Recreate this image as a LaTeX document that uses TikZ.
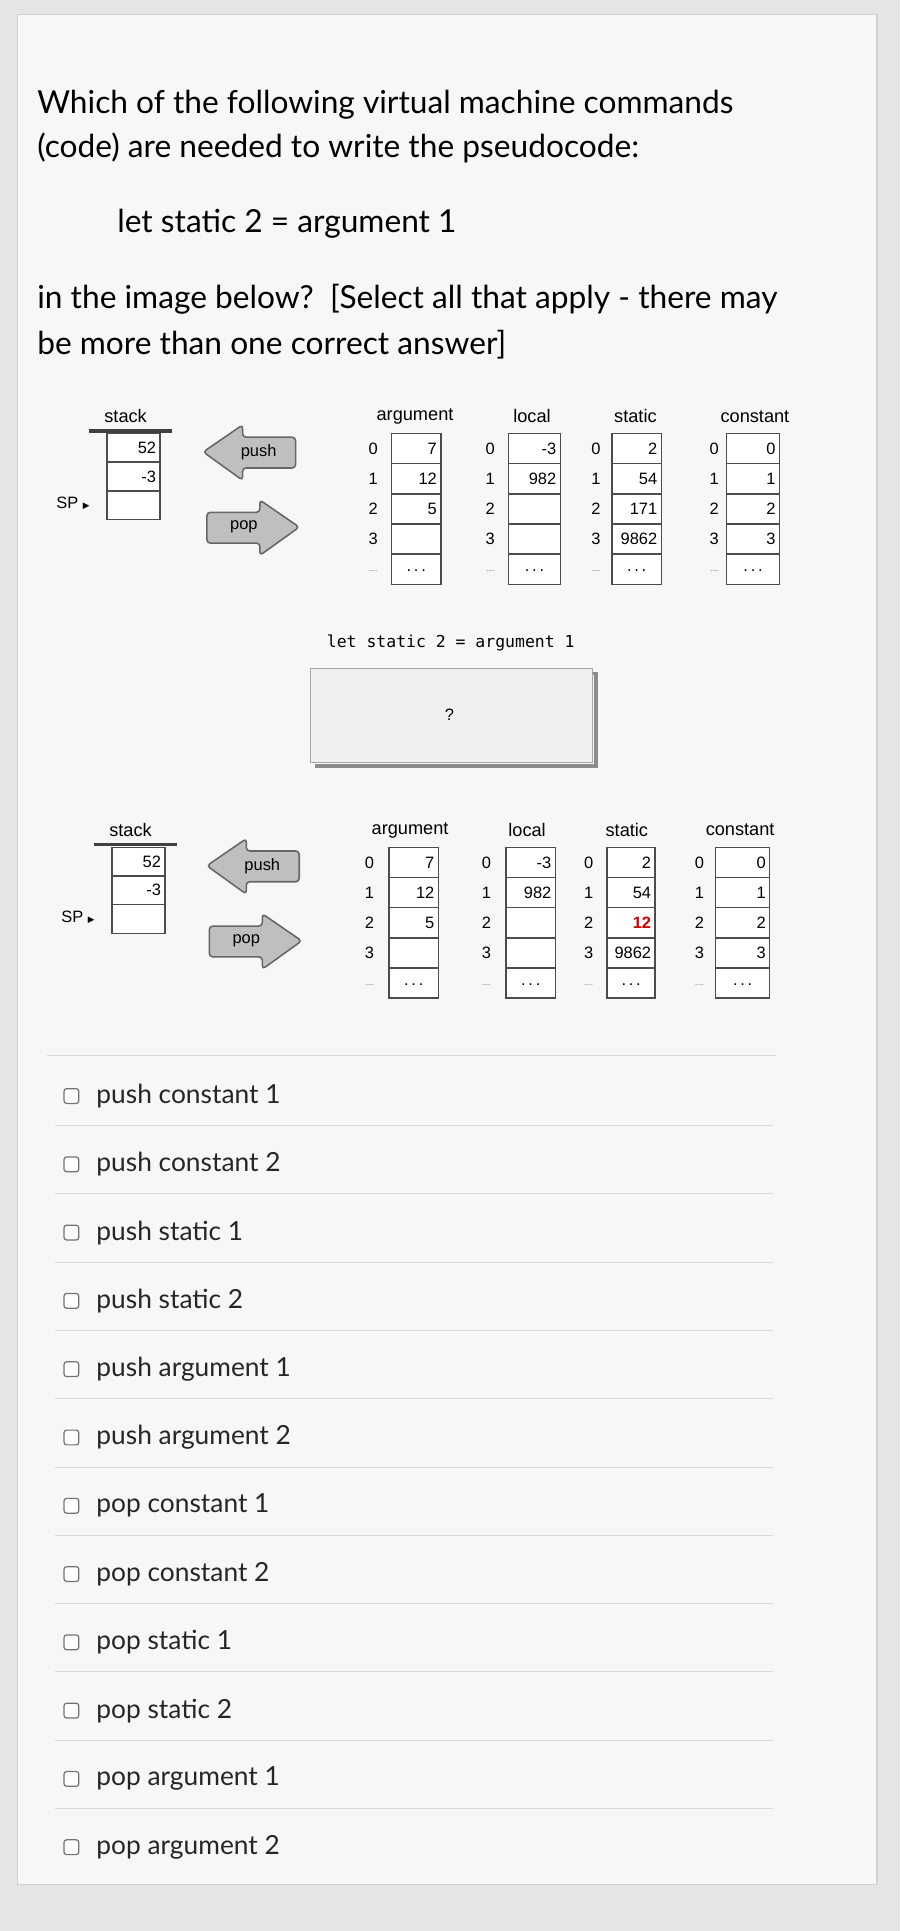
\documentclass[tikz,border=0pt]{standalone}
\usepackage{fontspec}
\setmainfont{Lato}
\newfontfamily\dfont{Liberation Sans}
\newfontfamily\mfont{DejaVu Sans Mono}
\newfontfamily\symfont{DejaVu Sans}
\tikzset{
 lbl/.style={font=\dfont\fontsize{10.5}{11}\selectfont,inner sep=0},
 val/.style={font=\dfont\fontsize{9.5}{10}\selectfont,inner sep=0},
 cell/.style={draw=black!70,line width=0.9pt,fill=white},
 arr/.style={draw=black!60,line width=0.9pt,fill=black!25,rounded corners=2pt},
 qtxt/.style={font=\fontsize{18.3}{22}\selectfont,anchor=west,inner sep=0},
 opt/.style={font=\fontsize{15.2}{18}\selectfont,anchor=west,inner sep=0,text=black!85},
 sep/.style={draw=black!15,line width=0.6pt},
 cbox/.style={draw=black!55,line width=0.7pt,rounded corners=1.5pt,fill=white}
}
\newcommand\memcol[7]{%
 \node[lbl] at (#6,#4-14) {#5};
 \foreach \v [count=\i from 0] in {#7} {
  \draw[cell] (#2,{#4+\i*24.5}) rectangle (#3,{#4+(\i+1)*24.5});
  \node[val,anchor=east] at (#3-3,{#4+(\i+0.5)*24.5}) {\v};
  \node[val] at (#1,{#4+(\i+0.5)*24.5}) {\i};
 }
 \draw[cell] (#2,{#4+4*24.5}) rectangle (#3,{#4+5*24.5});
 \node[val] at ({(#2+#3)/2},{#4+4.55*24.5}) {.\,.\,.};
 \node[val,text=black!40] at (#1,{#4+4.6*24.5}) {\tiny ---};
}
\newcommand\stackdiag[5]{%
 \node[lbl] at (#3,#2-14) {stack};
 \draw[line width=1.8pt,black!75] (#1-15,#2-2) -- (#1+53,#2-2);
 \foreach \v [count=\i from 0] in {52,-3,{}} {
  \draw[cell] (#1,{#2+\i*23.3}) rectangle (#1+43,{#2+(\i+1)*23.3});
  \node[val,anchor=east] at (#1+40,{#2+(\i+0.5)*23.3}) {\v};
 }
 \node[val,anchor=east] at (#1-14,#2+57) {SP {\symfont\tiny ▶}};
 \draw[arr] (#4,#2+15) -- (#4+32,#2-7) -- (#4+32,#2+3) -- (#4+75,#2+3) -- (#4+75,#2+28) -- (#4+32,#2+28) -- (#4+32,#2+38) -- cycle;
 \node[val] at (#4+45,#2+15) {push};
 \draw[arr] (#5+75,#2+76) -- (#5+43,#2+54) -- (#5+43,#2+64) -- (#5,#2+64) -- (#5,#2+89) -- (#5+43,#2+89) -- (#5+43,#2+99) -- cycle;
 \node[val] at (#5+30,#2+76) {pop};
}
\begin{document}
\begin{tikzpicture}[x=0.025cm,y=-0.025cm]
\useasboundingbox (0,0) rectangle (731,1568);
\fill[black!10] (0,0) rectangle (731,1568);
\fill[black!3] (14,12) rectangle (712,1530);
\draw[black!18,line width=0.8pt] (14,12) rectangle (712,1530);

\node[qtxt] (q1) at (30,85) {Which of the following virtual machine commands};
\node[qtxt] (q2) at (30,120) {(code) are needed to write the pseudocode:};
\node[qtxt] (q3) at (95,182) {let static 2 = argument 1};
\node[qtxt] (q4) at (30,243) {in the image below?\ \ [Select all that apply - there may};
\node[qtxt] (q5) at (30,280) {be more than one correct answer]};

\stackdiag{87}{352}{102}{165}{168}
\memcol{303}{318}{358}{352}{argument}{337}{7,12,5,{}}
\memcol{398}{413}{455}{352}{local}{432}{-3,982,{},{}}
\memcol{484}{497}{537}{352}{static}{516}{2,54,171,9862}
\memcol{580}{590}{633}{352}{constant}{613}{0,1,2,3}

\node[font=\mfont\fontsize{9.5}{12}\selectfont] (code) at (366,522) {let static 2 = argument 1};
\draw[black!45,line width=2pt] (256,547) -- (484,547) -- (484,622) -- (256,622);
\draw[draw=black!35,fill=blue!4!black!6,line width=0.8pt] (252,543) rectangle (481,619);
\node[val] (qm) at (365,580) {?};

\stackdiag{91}{688}{106}{168}{170}
\memcol{300}{316}{356}{688}{argument}{333}{7,12,5,{}}
\memcol{395}{411}{451}{688}{local}{428}{-3,982,{},{}}
\memcol{478}{493}{532}{688}{static}{509}{2,54,\textcolor{red!80!black}{\bfseries 12},9862}
\memcol{568}{581}{625}{688}{constant}{601}{0,1,2,3}

\draw[sep] (38,857) -- (630,857);
\foreach \t [count=\i from 0] in {push constant 1,push constant 2,push static 1,push static 2,push argument 1,push argument 2,pop constant 1,pop constant 2,pop static 1,pop static 2,pop argument 1,pop argument 2} {
 \pgfmathsetmacro\yy{890+\i*55.45}
 \draw[cbox] (52,\yy-6) rectangle (64,\yy+6);
 \node[opt] at (78,\yy) {\t};
 \ifnum\i<11 \draw[sep] (45,\yy+24) -- (628,\yy+24); \fi
}
\end{tikzpicture}
\end{document}
